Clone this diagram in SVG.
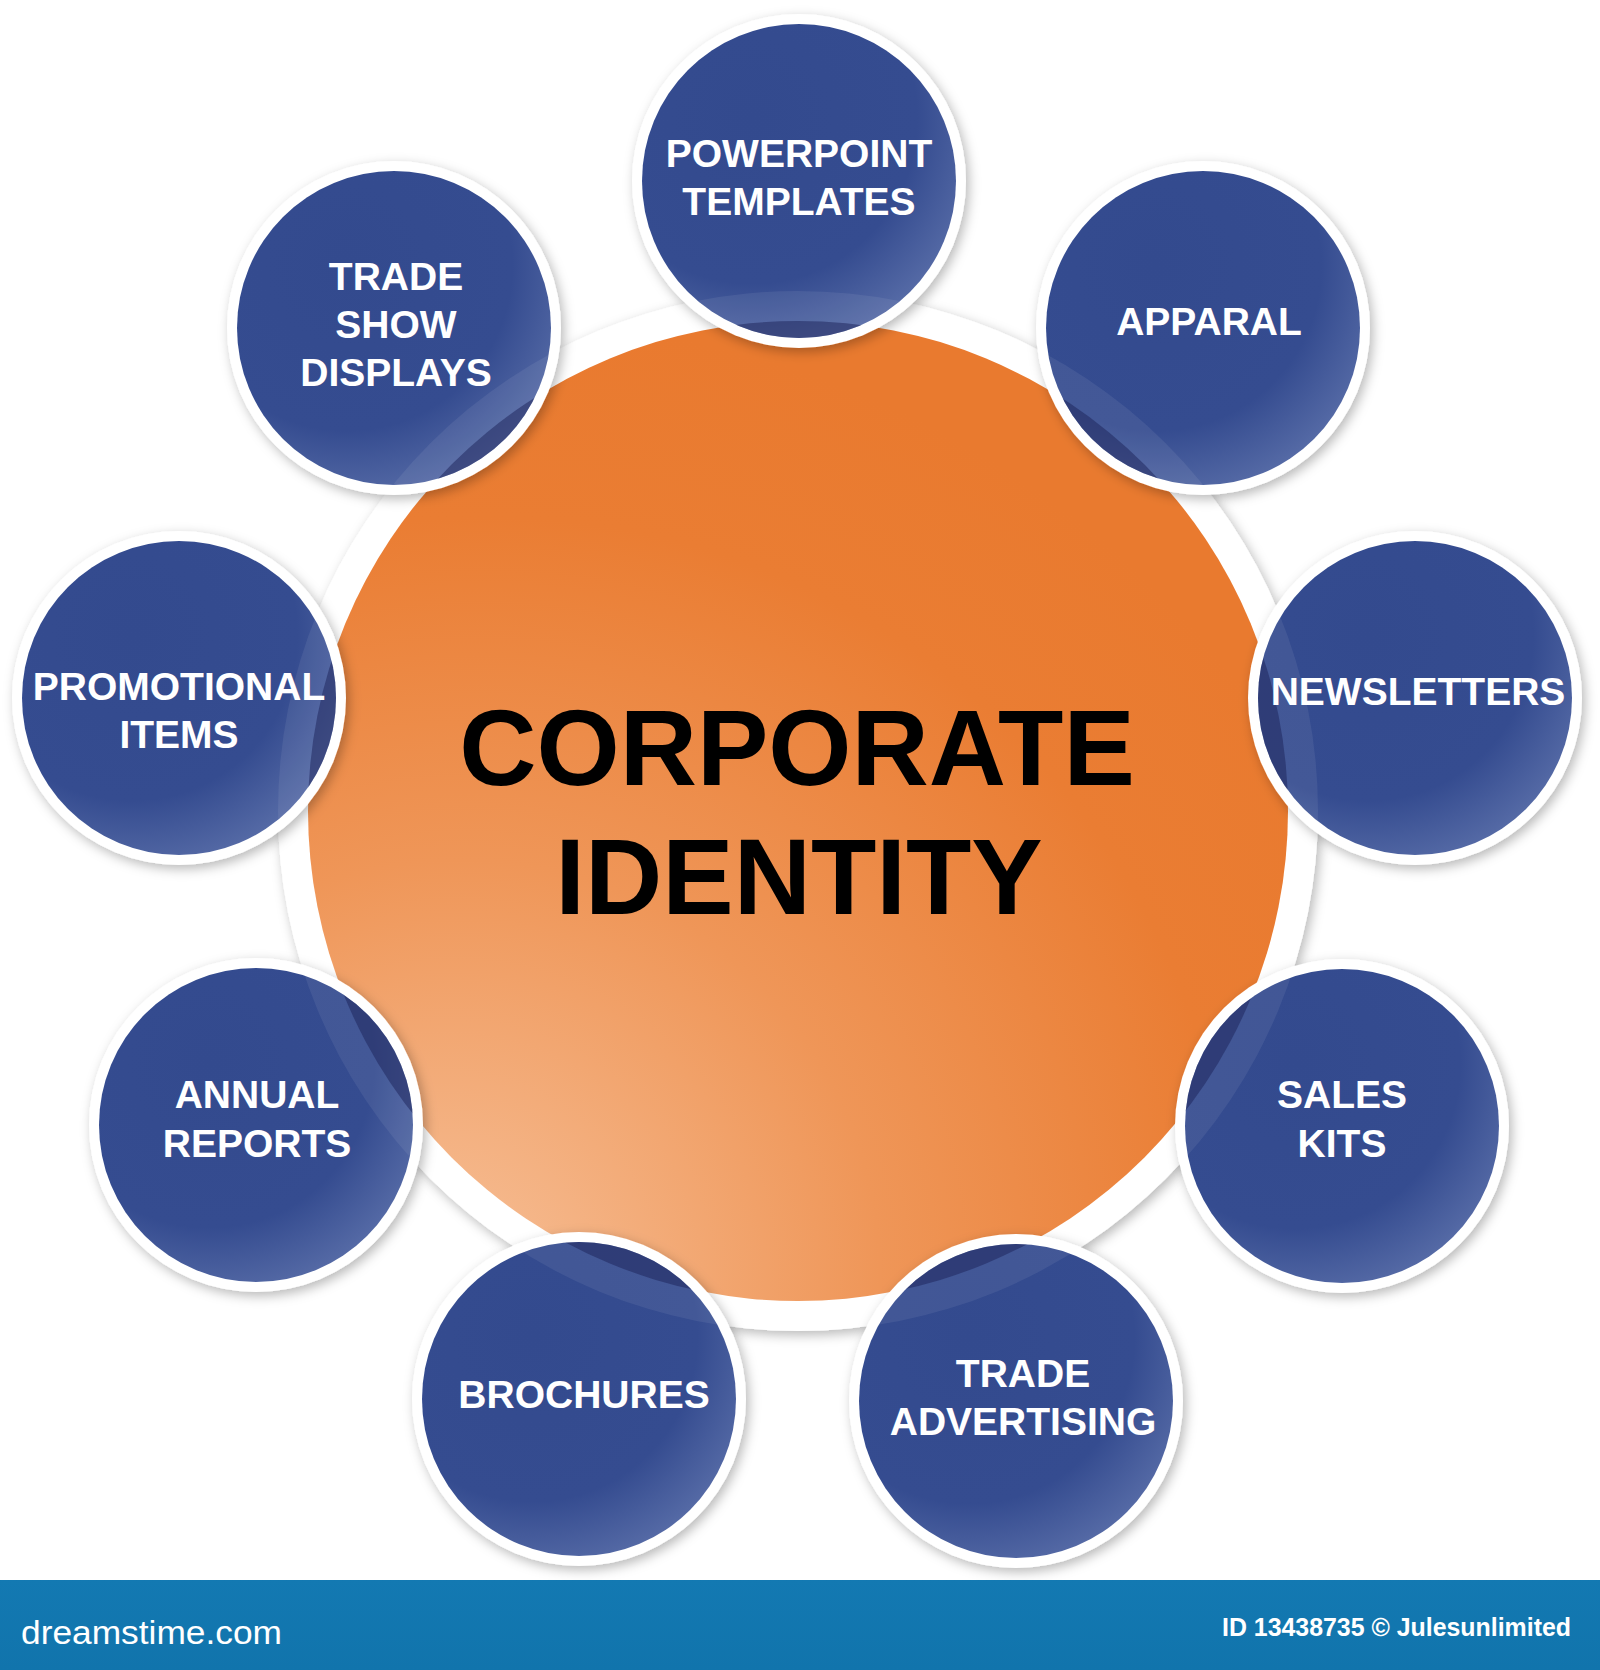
<svg xmlns="http://www.w3.org/2000/svg" width="1600" height="1670" viewBox="0 0 1600 1670">
  <style>
    .lbl { font-family: "Liberation Sans", Arial, sans-serif; font-weight: bold; font-size: 39px; fill: #ffffff; text-anchor: middle; }
    .title { font-family: "Liberation Sans", Arial, sans-serif; font-weight: bold; font-size: 107px; fill: #000000; text-anchor: middle; }
    .ring { fill: #ffffff; filter: url(#sh); }
    .disc { fill: url(#bg); }
    .ovw { fill: #ffffff; opacity: 0.07; }
    .ovn { fill: #1c2258; opacity: 0.5; }
    .foot { font-family: "Liberation Sans", Arial, sans-serif; fill: #ffffff; }
  </style>
  <defs>
    <radialGradient id="og" cx="0.2" cy="0.95" r="0.95" fx="0.12" fy="1">
      <stop offset="0" stop-color="#f7c29b"/>
      <stop offset="0.45" stop-color="#ef9658"/>
      <stop offset="0.8" stop-color="#ea7d33"/>
      <stop offset="1" stop-color="#e97a2f"/>
    </radialGradient>
    <radialGradient id="bg" cx="0.35" cy="0.3" r="0.85">
      <stop offset="0" stop-color="#334a8e"/>
      <stop offset="0.62" stop-color="#354c90"/>
      <stop offset="1" stop-color="#6377af"/>
    </radialGradient>
    <linearGradient id="barg" x1="0" y1="0" x2="0" y2="1">
      <stop offset="0" stop-color="#1379b2"/>
      <stop offset="1" stop-color="#1174ac"/>
    </linearGradient>
    <filter id="sh" x="-20%" y="-20%" width="140%" height="140%">
      <feDropShadow dx="3" dy="4" stdDeviation="6" flood-color="#000000" flood-opacity="0.28"/>
    </filter>
    <clipPath id="mainClip"><circle cx="798" cy="811" r="490"/></clipPath>
    <clipPath id="ringClip"><circle cx="798" cy="811" r="520"/></clipPath>
  </defs>

  <rect x="0" y="0" width="1600" height="1670" fill="#ffffff"/>

  <g id="center">
    <circle cx="798" cy="811" r="520" class="ring"/>
    <circle cx="798" cy="811" r="490" fill="url(#og)"/>
    <text class="title" x="797" y="785">CORPORATE</text>
    <text class="title" x="799" y="914">IDENTITY</text>
  </g>

  <g id="connectors"></g>

  <g id="n-powerpoint">
    <circle cx="799" cy="181" r="167" class="ring"/>
    <circle cx="799" cy="181" r="157" class="disc"/>
    <circle cx="799" cy="181" r="157" class="ovw" clip-path="url(#ringClip)"/>
    <circle cx="799" cy="181" r="157" class="ovn" clip-path="url(#mainClip)"/>
    <text class="lbl" x="799" y="167">POWERPOINT</text>
    <text class="lbl" x="799" y="215">TEMPLATES</text>
  </g>

  <g id="n-apparal">
    <circle cx="1203" cy="328" r="167" class="ring"/>
    <circle cx="1203" cy="328" r="157" class="disc"/>
    <circle cx="1203" cy="328" r="157" class="ovw" clip-path="url(#ringClip)"/>
    <circle cx="1203" cy="328" r="157" class="ovn" clip-path="url(#mainClip)"/>
    <text class="lbl" x="1209" y="335">APPARAL</text>
  </g>

  <g id="n-newsletters">
    <circle cx="1415" cy="698" r="167" class="ring"/>
    <circle cx="1415" cy="698" r="157" class="disc"/>
    <circle cx="1415" cy="698" r="157" class="ovw" clip-path="url(#ringClip)"/>
    <circle cx="1415" cy="698" r="157" class="ovn" clip-path="url(#mainClip)"/>
    <text class="lbl" x="1418" y="705">NEWSLETTERS</text>
  </g>

  <g id="n-saleskits">
    <circle cx="1342" cy="1126" r="167" class="ring"/>
    <circle cx="1342" cy="1126" r="157" class="disc"/>
    <circle cx="1342" cy="1126" r="157" class="ovw" clip-path="url(#ringClip)"/>
    <circle cx="1342" cy="1126" r="157" class="ovn" clip-path="url(#mainClip)"/>
    <text class="lbl" x="1342" y="1108">SALES</text>
    <text class="lbl" x="1342" y="1157">KITS</text>
  </g>

  <g id="n-tradeadvertising">
    <circle cx="1016" cy="1401" r="167" class="ring"/>
    <circle cx="1016" cy="1401" r="157" class="disc"/>
    <circle cx="1016" cy="1401" r="157" class="ovw" clip-path="url(#ringClip)"/>
    <circle cx="1016" cy="1401" r="157" class="ovn" clip-path="url(#mainClip)"/>
    <text class="lbl" x="1023" y="1387">TRADE</text>
    <text class="lbl" x="1023" y="1435">ADVERTISING</text>
  </g>

  <g id="n-brochures">
    <circle cx="579" cy="1399" r="167" class="ring"/>
    <circle cx="579" cy="1399" r="157" class="disc"/>
    <circle cx="579" cy="1399" r="157" class="ovw" clip-path="url(#ringClip)"/>
    <circle cx="579" cy="1399" r="157" class="ovn" clip-path="url(#mainClip)"/>
    <text class="lbl" x="584" y="1408">BROCHURES</text>
  </g>

  <g id="n-annualreports">
    <circle cx="256" cy="1125" r="167" class="ring"/>
    <circle cx="256" cy="1125" r="157" class="disc"/>
    <circle cx="256" cy="1125" r="157" class="ovw" clip-path="url(#ringClip)"/>
    <circle cx="256" cy="1125" r="157" class="ovn" clip-path="url(#mainClip)"/>
    <text class="lbl" x="257" y="1108">ANNUAL</text>
    <text class="lbl" x="257" y="1157">REPORTS</text>
  </g>

  <g id="n-promotional">
    <circle cx="179" cy="698" r="167" class="ring"/>
    <circle cx="179" cy="698" r="157" class="disc"/>
    <circle cx="179" cy="698" r="157" class="ovw" clip-path="url(#ringClip)"/>
    <circle cx="179" cy="698" r="157" class="ovn" clip-path="url(#mainClip)"/>
    <text class="lbl" x="179" y="700">PROMOTIONAL</text>
    <text class="lbl" x="179" y="748">ITEMS</text>
  </g>

  <g id="n-tradeshow">
    <circle cx="394" cy="328" r="167" class="ring"/>
    <circle cx="394" cy="328" r="157" class="disc"/>
    <circle cx="394" cy="328" r="157" class="ovw" clip-path="url(#ringClip)"/>
    <circle cx="394" cy="328" r="157" class="ovn" clip-path="url(#mainClip)"/>
    <text class="lbl" x="396" y="290">TRADE</text>
    <text class="lbl" x="396" y="338">SHOW</text>
    <text class="lbl" x="396" y="386">DISPLAYS</text>
  </g>

  <g id="footer">
    <rect x="0" y="1580" width="1600" height="90" fill="url(#barg)"/>
    <text class="foot" x="21" y="1644" font-size="34" textLength="261" lengthAdjust="spacingAndGlyphs">dreamstime.com</text>
    <text class="foot" x="1571" y="1636" font-size="25" font-weight="bold" text-anchor="end" textLength="349" lengthAdjust="spacingAndGlyphs">ID 13438735 © Julesunlimited</text>
  </g>
</svg>
